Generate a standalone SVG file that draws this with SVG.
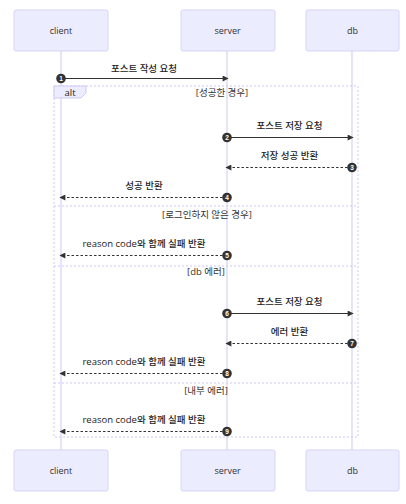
<svg xmlns="http://www.w3.org/2000/svg" width="406" height="504" viewBox="0 0 406 504">
<style>
.actor{fill:#ECECFF;stroke:#D8D3F5;stroke-width:1}
.atext{font-family:"Open Sans","Noto Sans CJK KR",sans-serif;font-size:9px;fill:#333;text-anchor:middle;dominant-baseline:central}
.life{stroke:#CFC8F2;stroke-width:1}
.msg{stroke:#333;stroke-width:1.2;fill:none}
.dash{stroke-dasharray:2.5,2}
.mtext{font-family:"Open Sans","Noto Sans CJK KR",sans-serif;font-size:9.5px;fill:#222;text-anchor:middle;font-weight:500}
.loop{stroke:#CFC8F2;stroke-width:1;fill:none;stroke-dasharray:2,2}
.ltext{font-family:"Open Sans","Noto Sans CJK KR",sans-serif;font-size:9.5px;fill:#333;text-anchor:middle}
.snum{fill:#333}
.stext{font-family:"Liberation Sans",sans-serif;font-size:6.5px;fill:#fff;text-anchor:middle;dominant-baseline:central;font-weight:bold}
</style>
<defs>
<marker id="arrow" viewBox="0 0 10 10" refX="9" refY="5" markerWidth="8" markerHeight="6" markerUnits="userSpaceOnUse" orient="auto">
<path d="M0,0 L10,5 L0,10 z" fill="#333"/>
</marker>
</defs>
<rect width="406" height="504" fill="#fff"/>
<g id="lifelines">
<line class="life" x1="61" y1="50" x2="61" y2="450"/>
<line class="life" x1="227" y1="50" x2="227" y2="450"/>
<line class="life" x1="352" y1="50" x2="352" y2="450"/>
</g>
<g id="actor-client-top"><rect class="actor" x="14" y="10" width="94" height="41" rx="2"/><text class="atext" x="61" y="30.5">client</text></g>
<g id="actor-server-top"><rect class="actor" x="181" y="10" width="94" height="41" rx="2"/><text class="atext" x="227.5" y="30.5">server</text></g>
<g id="actor-db-top"><rect class="actor" x="306" y="10" width="93" height="41" rx="2"/><text class="atext" x="352.5" y="30.5">db</text></g>
<g id="actor-client-bottom"><rect class="actor" x="14" y="450" width="94" height="41" rx="2"/><text class="atext" x="61" y="470.5">client</text></g>
<g id="actor-server-bottom"><rect class="actor" x="181" y="450" width="94" height="41" rx="2"/><text class="atext" x="227.5" y="470.5">server</text></g>
<g id="actor-db-bottom"><rect class="actor" x="306" y="450" width="93" height="41" rx="2"/><text class="atext" x="352.5" y="470.5">db</text></g>
<g id="alt">
<rect class="loop" x="54" y="86" width="304" height="351"/>
<polygon points="54,86 86,86 86,93 81,98 54,98" fill="#ECECFF" stroke="#CFC8F2" stroke-width="1"/>
<text x="70" y="95.5" class="mtext">alt</text>
<text x="222" y="96" class="ltext">[성공한 경우]</text>
<line class="loop" x1="54" y1="206" x2="358" y2="206"/>
<text x="207" y="218" class="ltext">[로그인하지 않은 경우]</text>
<line class="loop" x1="54" y1="266" x2="358" y2="266"/>
<text x="206" y="275" class="ltext">[db 에러]</text>
<line class="loop" x1="54" y1="383" x2="358" y2="383"/>
<text x="206" y="394" class="ltext">[내부 에러]</text>
</g>
<g id="connectors">
<text x="144" y="72" class="mtext">포스트 작성 요청</text>
<line class="msg" x1="61" y1="78.5" x2="228" y2="78.5" marker-end="url(#arrow)"/>
<text x="289.5" y="129" class="mtext">포스트 저장 요청</text>
<line class="msg" x1="227" y1="137.5" x2="353" y2="137.5" marker-end="url(#arrow)"/>
<text x="289.5" y="159" class="mtext">저장 성공 반환</text>
<line class="msg dash" x1="352" y1="167.5" x2="226" y2="167.5" marker-end="url(#arrow)"/>
<text x="144" y="189" class="mtext">성공 반환</text>
<line class="msg dash" x1="227" y1="197.5" x2="60" y2="197.5" marker-end="url(#arrow)"/>
<text x="144" y="247" class="mtext">reason code와 함께 실패 반환</text>
<line class="msg dash" x1="227" y1="255.5" x2="60" y2="255.5" marker-end="url(#arrow)"/>
<text x="289.5" y="305" class="mtext">포스트 저장 요청</text>
<line class="msg" x1="227" y1="313.5" x2="353" y2="313.5" marker-end="url(#arrow)"/>
<text x="289.5" y="335" class="mtext">에러 반환</text>
<line class="msg dash" x1="352" y1="343.5" x2="226" y2="343.5" marker-end="url(#arrow)"/>
<text x="144" y="365" class="mtext">reason code와 함께 실패 반환</text>
<line class="msg dash" x1="227" y1="373.5" x2="60" y2="373.5" marker-end="url(#arrow)"/>
<text x="144" y="423" class="mtext">reason code와 함께 실패 반환</text>
<line class="msg dash" x1="227" y1="431.5" x2="60" y2="431.5" marker-end="url(#arrow)"/>
</g>
<g id="sequence-numbers">
<circle class="snum" cx="61" cy="78.5" r="4.8"/><text class="stext" x="61" y="78.5">1</text>
<circle class="snum" cx="227" cy="137.5" r="4.8"/><text class="stext" x="227" y="137.5">2</text>
<circle class="snum" cx="352" cy="167.5" r="4.8"/><text class="stext" x="352" y="167.5">3</text>
<circle class="snum" cx="227" cy="197.5" r="4.8"/><text class="stext" x="227" y="197.5">4</text>
<circle class="snum" cx="227" cy="255.5" r="4.8"/><text class="stext" x="227" y="255.5">5</text>
<circle class="snum" cx="227" cy="313.5" r="4.8"/><text class="stext" x="227" y="313.5">6</text>
<circle class="snum" cx="352" cy="343.5" r="4.8"/><text class="stext" x="352" y="343.5">7</text>
<circle class="snum" cx="227" cy="373.5" r="4.8"/><text class="stext" x="227" y="373.5">8</text>
<circle class="snum" cx="227" cy="431.5" r="4.8"/><text class="stext" x="227" y="431.5">9</text>
</g>
</svg>
